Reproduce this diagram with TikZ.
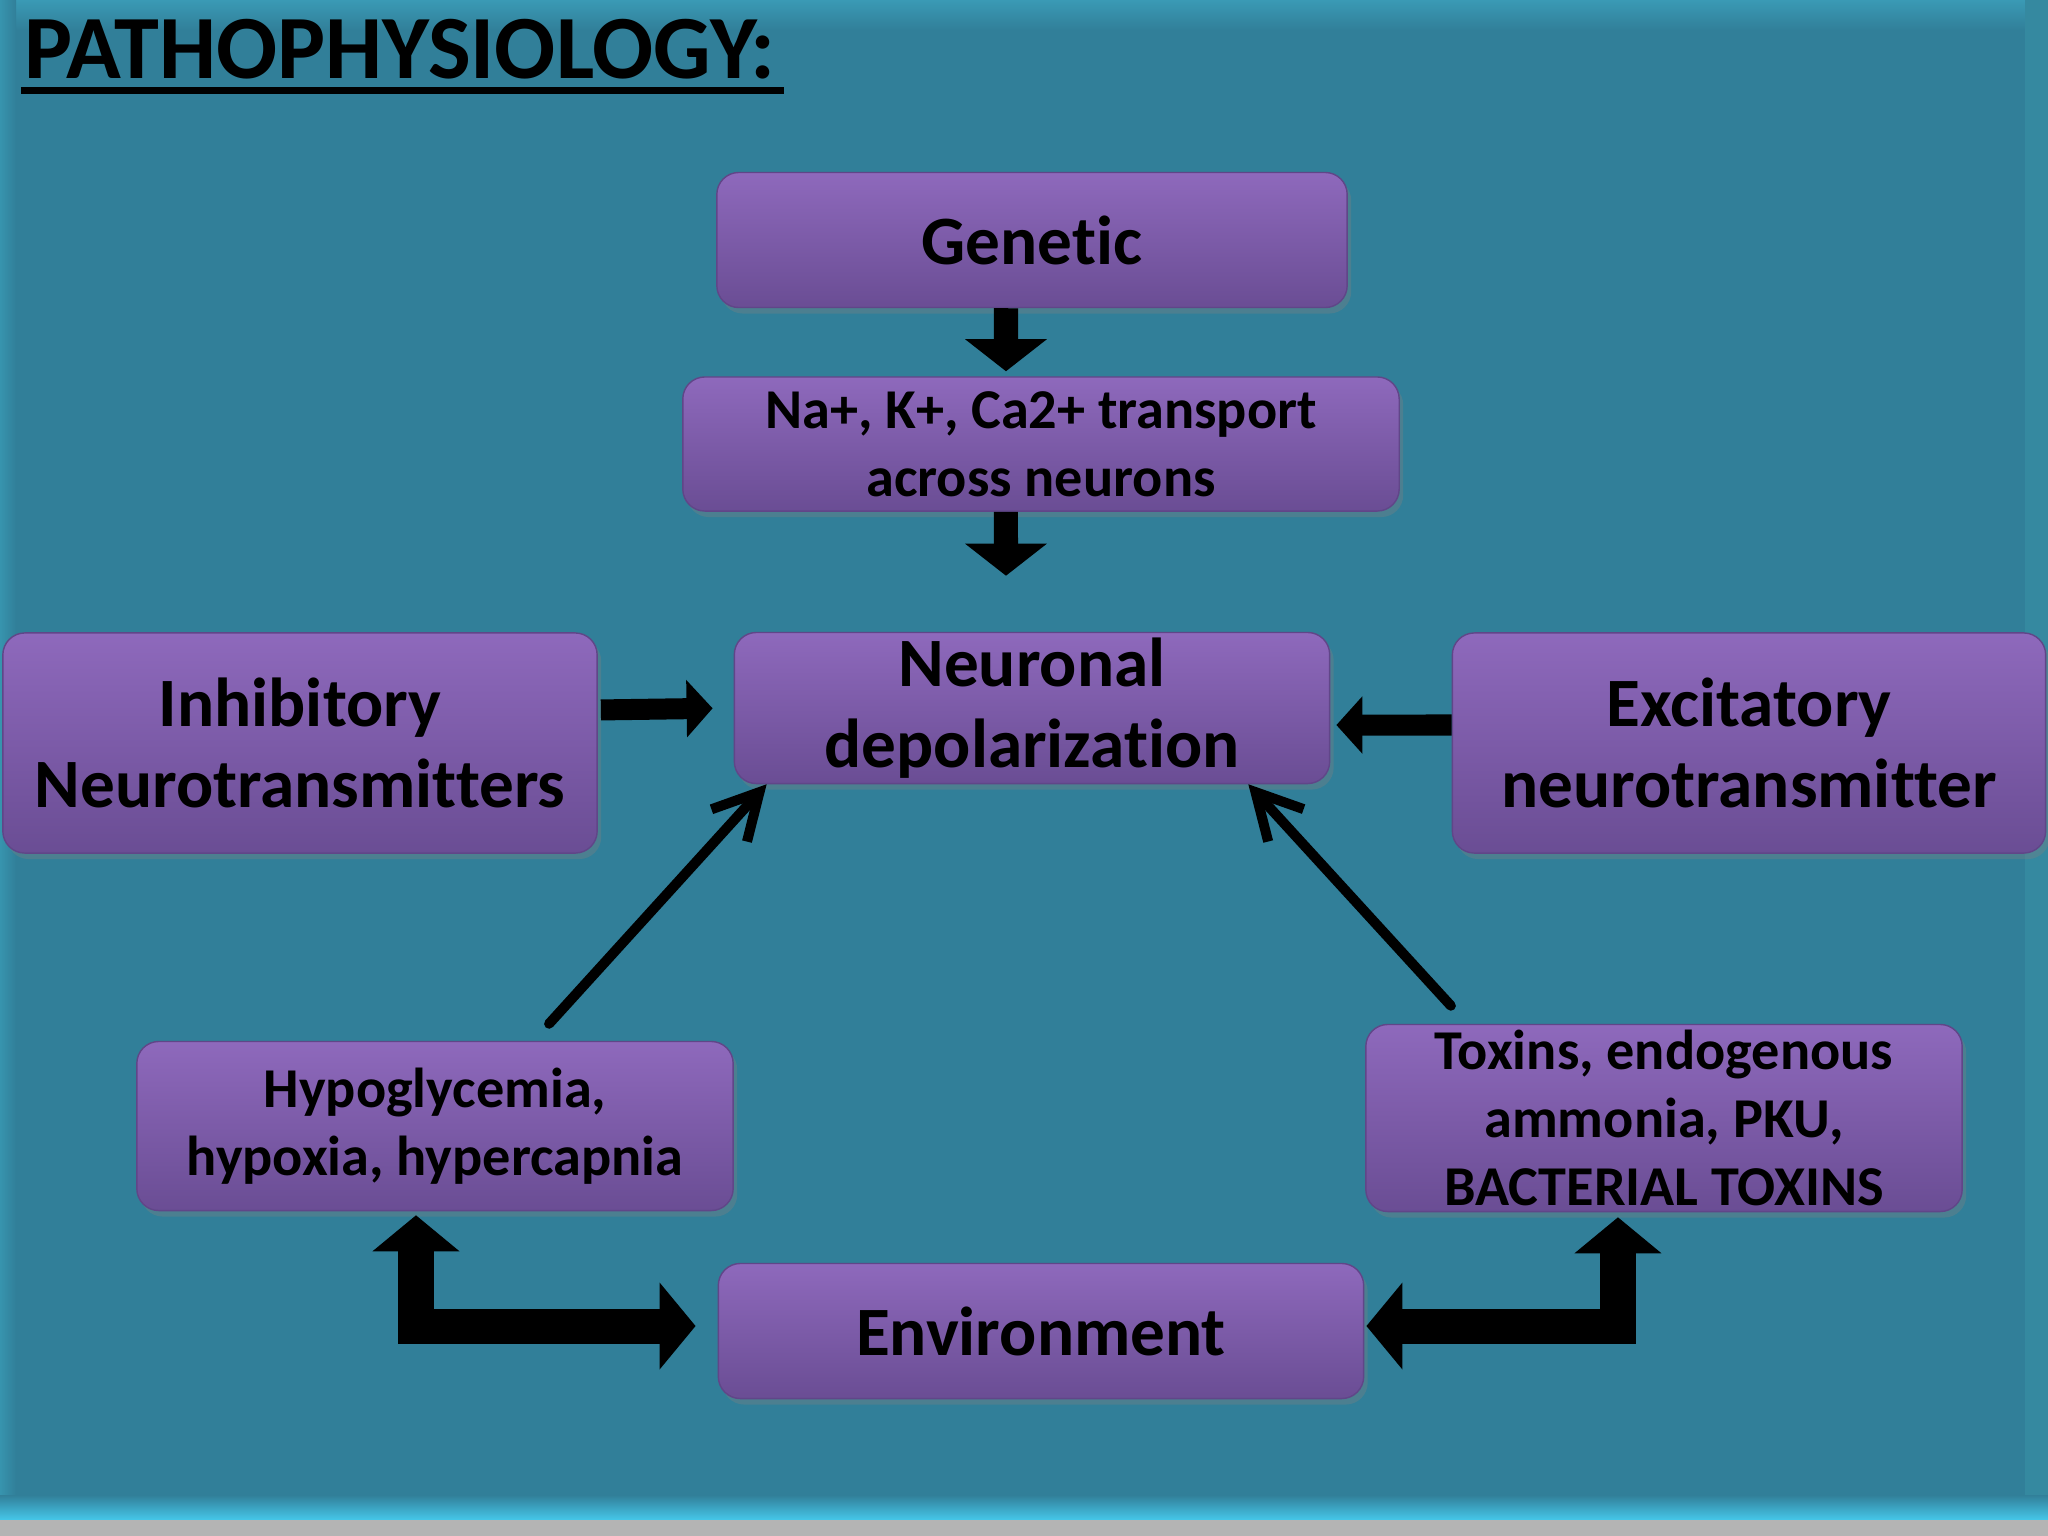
\documentclass[tikz,border=0pt]{standalone}
\usepackage{fontspec}
\setmainfont{Carlito}[Ligatures=NoCommon]
\usetikzlibrary{arrows.meta,shadows}

\definecolor{bgteal}{RGB}{49,127,153}
\definecolor{bgtop}{RGB}{58,154,181}
\definecolor{bgleft}{RGB}{55,148,174}
\definecolor{bgright}{RGB}{53,137,160}
\definecolor{glowcyan}{RGB}{70,200,234}
\definecolor{greyband}{RGB}{180,180,180}
\definecolor{boxtop}{RGB}{142,105,188}
\definecolor{boxbot}{RGB}{106,77,148}
\definecolor{boxedge}{RGB}{96,70,136}

\begin{document}
\begin{tikzpicture}[x=0.01cm, y=-0.01cm,
    box/.style={rectangle, rounded corners=0.22cm, draw=boxedge, top color=boxtop, bottom color=boxbot,
        align=center, inner sep=0pt, font=\bfseries\fontsize{19.7}{23}\selectfont,
        drop shadow={shadow xshift=0.04cm, shadow yshift=-0.06cm, opacity=0.35}},
    smallbox/.style={box, font=\bfseries\fontsize{16}{19.3}\selectfont},
    blk/.style={line width=0.24cm, -{Triangle[width=0.8cm,length=0.32cm]}},
    blkside/.style={line width=0.21cm, -{Triangle[width=0.56cm,length=0.26cm]}},
    elbow/.style={line width=0.35cm, line join=miter,
        {Triangle[width=0.85cm,length=0.36cm]}-{Triangle[width=0.85cm,length=0.36cm]}},
    thinarrow/.style={line width=0.1cm, line cap=round, -{Straight Barb[length=0.45cm,width=0.48cm]}}
]
    \useasboundingbox (0,0) rectangle (2048,1536);
    % background
    \fill[bgteal] (0,0) rectangle (2048,1536);
    \fill[top color=bgtop, bottom color=bgteal] (0,0) rectangle (2048,30);
    \fill[left color=bgleft, right color=bgteal] (0,0) rectangle (16,1505);
    \fill[bgright] (2025,0) rectangle (2048,1505);
    \fill[top color=bgteal, bottom color=glowcyan] (0,1495) rectangle (2048,1520);
    \fill[greyband] (0,1520) rectangle (2048,1536);

    \node[anchor=base west, inner sep=0pt, font=\bfseries\fontsize{25.7}{30}\selectfont] (title) at (24,78) {PATHOPHYSIOLOGY:};
    \draw[line width=0.07cm] ([shift={(-0.03cm,-0.12cm)}]title.base west) -- ([shift={(0.08cm,-0.12cm)}]title.base east);

    \node[box, minimum width=6.3cm, minimum height=1.35cm] (genetic) at (1032,240) {Genetic};
    \node[smallbox, minimum width=7.16cm, minimum height=1.34cm] (transport) at (1041,444) {Na+, K+, Ca2+ transport\\across neurons};
    \node[box, minimum width=5.95cm, minimum height=1.51cm] (depol) at (1032,708) {Neuronal\\depolarization};
    \node[box, minimum width=5.94cm, minimum height=2.2cm] (inhib) at (300,743) {Inhibitory\\Neurotransmitters};
    \node[box, minimum width=5.93cm, minimum height=2.2cm] (excit) at (1749,743) {Excitatory\\neurotransmitter};
    \node[smallbox, minimum width=5.96cm, minimum height=1.69cm] (hypo) at (435,1126) {Hypoglycemia,\\hypoxia, hypercapnia};
    \node[smallbox, minimum width=5.96cm, minimum height=1.87cm] (toxin) at (1664,1118) {Toxins, endogenous\\ammonia, PKU,\\BACTERIAL TOXINS};
    \node[box, minimum width=6.45cm, minimum height=1.35cm] (env) at (1041,1331) {Environment};

    \draw[blk, shorten >=0.05cm] ([xshift=-0.26cm]genetic.south) -- ([xshift=-0.35cm]transport.north);
    \draw[blk, shorten >=0.56cm] ([xshift=-0.35cm]transport.south) -- ([xshift=-0.26cm]depol.north);
    \draw[blkside, shorten <=0.03cm, shorten >=0.21cm] ([yshift=0.33cm]inhib.east) -- (depol.west);
    \draw[blkside, shorten >=0.06cm] ([yshift=0.18cm]excit.west) -- ([yshift=-0.17cm]depol.east);

    \draw[thinarrow] ([xshift=1.14cm,yshift=0.17cm]hypo.north) -- ([xshift=0.33cm]depol.south west);
    \draw[thinarrow] ([xshift=-2.13cm,yshift=0.18cm]toxin.north) -- ([xshift=-0.82cm]depol.south east);

    \draw[elbow, shorten <=0.04cm, shorten >=0.22cm] ([xshift=-0.19cm]hypo.south) |- ([yshift=0.05cm]env.west);
    \draw[elbow, shorten <=0.05cm, shorten >=0.02cm] ([xshift=-0.46cm]toxin.south) |- ([yshift=0.05cm]env.east);
\end{tikzpicture}
\end{document}
